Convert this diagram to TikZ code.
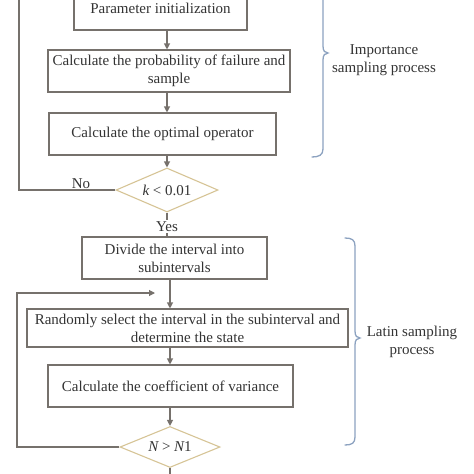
\documentclass[tikz,border=0pt]{standalone}
\usepackage{fontspec}
\setmainfont{Liberation Serif}
\usetikzlibrary{arrows.meta,shapes.geometric}
\definecolor{boxc}{RGB}{118,113,108}
\definecolor{diac}{RGB}{214,196,150}
\definecolor{brc}{RGB}{140,162,192}
\begin{document}
\begin{tikzpicture}[x=1pt,y=1pt,
  txt/.style={font=\fontsize{15}{18}\selectfont, text=black!80},
  pbox/.style={txt, draw=boxc, line width=1.1pt, rectangle, align=center, inner sep=0pt},
  dbox/.style={txt, draw=diac, line width=1.1pt, diamond, shape aspect=2.3, inner sep=0pt},
  arr/.style={draw=boxc, line width=1.1pt, -{Triangle[length=6pt,width=6pt]}},
  ln/.style={draw=boxc, line width=1.1pt},
  brace/.style={draw=brc, line width=1.3pt, line cap=round}]
\useasboundingbox (0,0) rectangle (474,-474);

\node[pbox, minimum width=173pt, minimum height=44pt] (b1) at (160.5,-8) {Parameter initialization};
\node[pbox, minimum width=242pt, minimum height=42pt] (b2) at (169,-71) {Calculate the probability of failure and\\sample};
\node[pbox, minimum width=227pt, minimum height=42pt] (b3) at (162.5,-134) {Calculate the optimal operator};
\node[dbox, minimum width=102pt, minimum height=44pt] (d1) at (167,-190) {{\itshape k} < 0.01};
\node[pbox, minimum width=185pt, minimum height=42pt] (b4) at (174.5,-258) {Divide the interval into\\subintervals};
\node[pbox, minimum width=321pt, minimum height=38pt] (b5) at (187.5,-328) {Randomly select the interval in the subinterval and\\determine the state};
\node[pbox, minimum width=245pt, minimum height=42pt] (b6) at (170.5,-386) {Calculate the coefficient of variance};
\node[dbox, minimum width=100pt, minimum height=41pt] (d2) at (170,-447) {{\itshape N} > {\itshape N}1};

% upper connectors
\draw[arr] (b1.south -| d1.north) -- (b2.north -| d1.north);
\draw[arr] (b2.south -| d1.north) -- (b3.north -| d1.north);
\draw[arr] (b3.south -| d1.north) -- (d1.north);
\draw[ln] (d1.south) -- (d1.south |- b4.north) node[pos=0.6, txt, fill=white, inner sep=1.5pt] (yes) {Yes};
\coordinate (t1) at (19,6);
\draw[ln] (d1.west) -| (t1);
\node[txt] (no) at (81,-184) {No};

% lower connectors
\draw[arr] (b4.south -| d2.north) -- (b5.north -| d2.north);
\draw[arr] (b5.south -| d2.north) -- (b6.north -| d2.north);
\draw[arr] (b6.south -| d2.north) -- (d2.north);
\coordinate (l2) at (17,-293);
\coordinate (a2) at (155,-293);
\draw[arr] (d2.west) -| (l2) -- (a2);
\coordinate (bot) at (170,-480);
\draw[ln] (d2.south) -- (bot);

% braces
\draw[brace] (312,-157) .. controls (319,-157) and (323,-155) .. (323,-149) -- (323,-60)
  .. controls (323,-55) and (325,-53) .. (328,-53) .. controls (325,-53) and (323,-51) .. (323,-46) -- (323,6);
\draw[brace] (345,-238) .. controls (352,-238) and (355,-240) .. (355,-246) -- (355,-331)
  .. controls (355,-336) and (357,-338) .. (360,-338) .. controls (357,-338) and (355,-340) .. (355,-345)
  -- (355,-437) .. controls (355,-443) and (352,-445) .. (345,-445);

\node[txt, align=center] (imp) at (384,-60) {Importance\\sampling process};
\node[txt, align=center] (lat) at (412,-341.5) {Latin sampling\\process};
\end{tikzpicture}
\end{document}
